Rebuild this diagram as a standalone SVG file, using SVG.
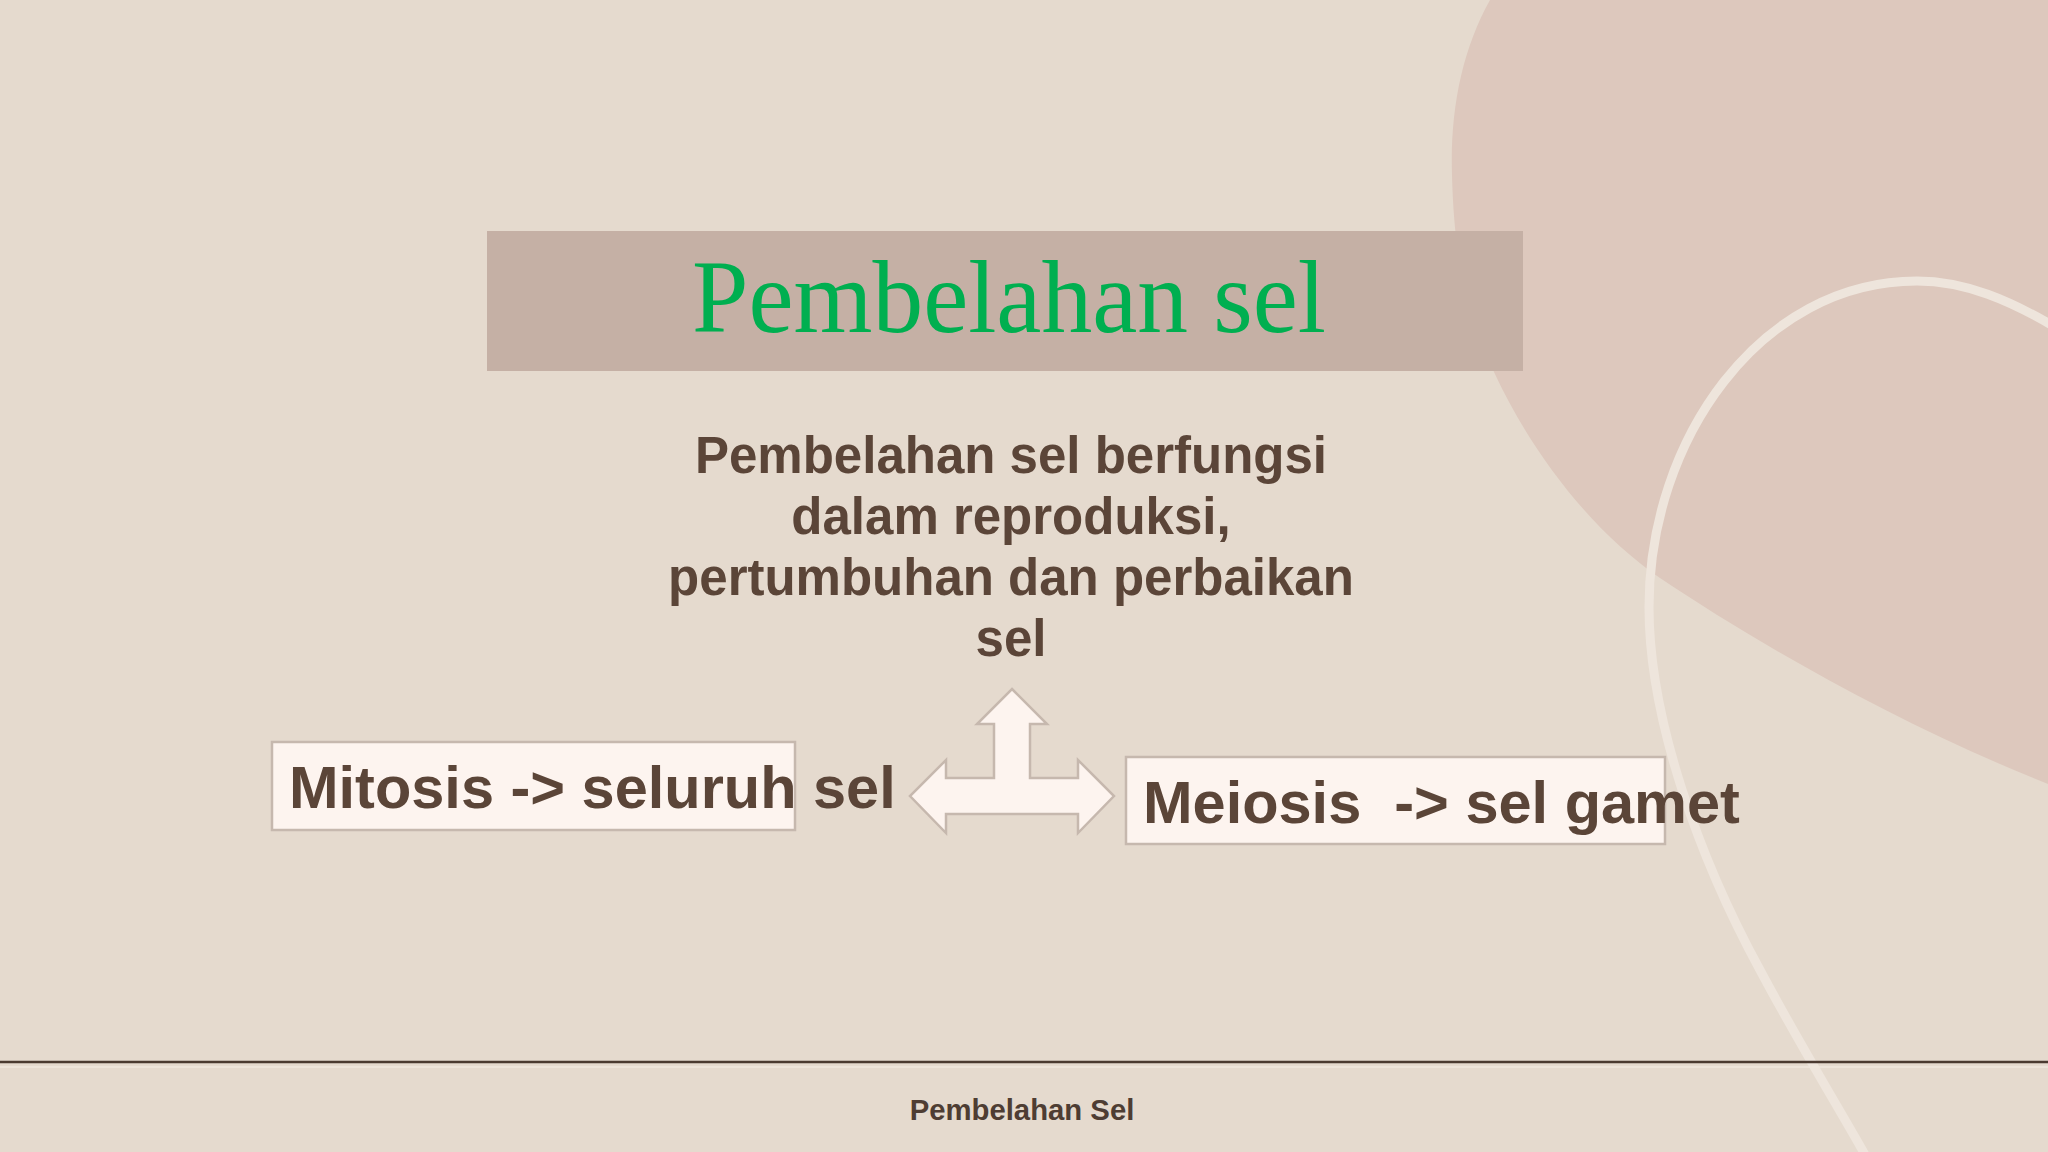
<svg xmlns="http://www.w3.org/2000/svg" width="2048" height="1152" viewBox="0 0 2048 1152">
  <style>
    .body { font-family: "Liberation Sans", Arial, sans-serif; font-weight: bold; fill: #5B4538; text-anchor: middle; }
    .box { fill: #FDF4EF; stroke: #C6B8AE; stroke-width: 2.5; }
    .lbl { font-family: "Liberation Sans", Arial, sans-serif; font-weight: bold; fill: #5B4538; font-size: 59.5px; }
  </style>
  <rect x="0" y="0" width="2048" height="1152" fill="#E5DACE"/>
  <g id="decor">
    <path d="M 1490 0 C 1462 50, 1450 110, 1452 175 C 1454 260, 1468 320, 1494 372 C 1530 450, 1590 530, 1660 578 C 1760 645, 1900 725, 2048 784 L 2048 0 Z" fill="#DDC8BD"/>
    <path d="M 2060 330 C 2010 300, 1965 281, 1917 281 C 1760 281, 1649 440, 1649 607 C 1649 720, 1700 860, 1760 970 C 1800 1045, 1840 1110, 1868 1160" fill="none" stroke="#EEE5DC" stroke-width="9"/>
  </g>
  <g id="title">
    <rect x="487" y="231" width="1036" height="140" fill="#C5B0A5"/>
    <text x="1009" y="332" font-family="'Liberation Serif', 'Times New Roman', serif" font-size="104" fill="#00AF50" text-anchor="middle" textLength="634" lengthAdjust="spacingAndGlyphs">Pembelahan sel</text>
  </g>
  <g id="description">
    <text class="body" font-size="51" x="1011" y="473">Pembelahan sel berfungsi</text>
    <text class="body" font-size="51" x="1011" y="534">dalam reproduksi,</text>
    <text class="body" font-size="51" x="1011" y="595">pertumbuhan dan perbaikan</text>
    <text class="body" font-size="51" x="1011" y="656">sel</text>
  </g>
  <g id="connectors">
    <polygon class="box" stroke-width="2" points="1012,689 1047,724 1030,724 1030,778 1078,778 1078,760 1114,796 1078,833 1078,814 946,814 946,833 910,796 946,760 946,778 994,778 994,724 977,724"/>
  </g>
  <g id="mitosis">
    <rect class="box" x="272" y="742" width="523" height="88"/>
    <text class="lbl" x="289" y="808">Mitosis -&gt; seluruh sel</text>
  </g>
  <g id="meiosis">
    <rect class="box" x="1126" y="757" width="539" height="87"/>
    <text class="lbl" x="1143" y="823" xml:space="preserve">Meiosis  -&gt; sel gamet</text>
  </g>
  <g id="footer">
    <line x1="0" y1="1062" x2="2048" y2="1062" stroke="#4A3A30" stroke-width="2.5"/>
    <line x1="0" y1="1067" x2="2048" y2="1067" stroke="#EFE7DE" stroke-width="1.5"/>
    <text x="1022" y="1120" font-family="'Liberation Sans', Arial, sans-serif" font-weight="bold" font-size="29.3" fill="#4E3D33" text-anchor="middle">Pembelahan Sel</text>
  </g>
</svg>
